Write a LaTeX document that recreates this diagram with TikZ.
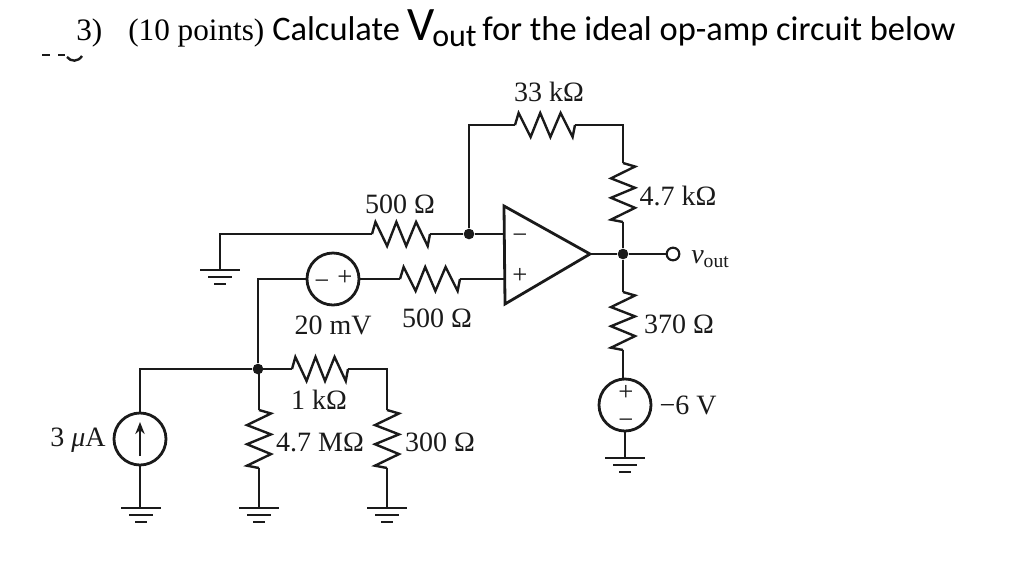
\documentclass[tikz,border=0pt]{standalone}
\usepackage{fontspec}
\setmainfont{Liberation Serif}
\newfontfamily\calib{Carlito}
\usetikzlibrary{calc,arrows.meta}
\newcommand{\zzres}[2]{%
  \draw[wire] (#1) -- ($(#1)!.06!(#2)!12*.75pt!90:(#2)$)
    -- ($(#1)!.26!(#2)!12*.75pt!-90:(#2)$)
    -- ($(#1)!.42!(#2)!12*.75pt!90:(#2)$)
    -- ($(#1)!.59!(#2)!12*.75pt!-90:(#2)$)
    -- ($(#1)!.76!(#2)!12*.75pt!90:(#2)$)
    -- ($(#1)!.96!(#2)!12*.75pt!-90:(#2)$)
    -- (#2);}
\newcommand{\gnd}[2]{%
  \coordinate (#1) at #2;
  \draw[gndline] ($(#1)+(-20,0)$) -- ($(#1)+(20,0)$);
  \draw[gndline] ($(#1)+(-12,7)$) -- ($(#1)+(12,7)$);
  \draw[gndline] ($(#1)+(-6,14)$) -- ($(#1)+(6,14)$);}
\tikzset{
  wire/.style={line width=1.8pt,color=ink,line join=miter},
  gndline/.style={line width=2.1pt,color=ink},
  source/.style={circle,draw=ink,line width=2.1pt,minimum size=39pt,inner sep=0pt},
  jdot/.style={circle,fill=ink,inner sep=0pt,minimum size=8pt},
  term/.style={circle,draw=ink,line width=1.6pt,fill=white,inner sep=0pt,minimum size=9.5pt},
  lab/.style={font=\fontsize{21}{21}\selectfont,text=ink,inner sep=0pt,anchor=base},
  sign/.style={font=\fontsize{20}{20}\selectfont,text=ink,inner sep=0pt,text height=8pt,text depth=0pt},
  head/.style={text=black,inner sep=0pt,anchor=base west},
  speck/.style={line width=1.2pt,color=ink}
}
\definecolor{ink}{HTML}{1A1A1A}
\begin{document}
\begin{tikzpicture}[x=.75pt,y=-.75pt]
\useasboundingbox (0,0) rectangle (1024,569);
% heading
\node[head,font=\fontsize{23.4}{24}\selectfont] (hn) at (76,40) {3)};
\node[head,font=\fontsize{23.4}{24}\selectfont] (hq) at (128,40) {(10 points)};
\node[head,font=\calib\fontsize{25.8}{26}\selectfont] (hc) at (272,40) {Calculate};
\node[head,font=\calib\fontsize{36}{36}\selectfont] (hv) at (407,40) {V};
\node[head,font=\calib\fontsize{24}{24}\selectfont] (ht) at (432,46) {out};
\node[head,font=\calib\fontsize{25.8}{26}\selectfont] (hr) at (482,40) {for the ideal op-amp circuit below};
\coordinate (s1) at (42,55); \coordinate (s2) at (50,55);
\coordinate (s3) at (58,55); \coordinate (s4) at (65,55);
\coordinate (s5) at (67,57); \coordinate (s6) at (82,56);
\draw[speck] (s1) -- (s2);
\draw[speck] (s3) -- (s4);
\draw[speck,line width=1.8pt] (s5) .. controls (71,62) and (78,62) .. (s6);
% sources
\node[source] (vs) at (333,279) {};
\node[source] (vn) at (625,405) {};
\node[source] (is) at (140,439) {};
% op-amp
\coordinate (oa) at (504,206);
\coordinate (ob) at (505,304);
\coordinate (oc) at (590,254);
\draw[wire,line width=2.1pt] (oa) -- (oc) -- (ob) -- cycle;
\node[sign] (om) at (520,238) {−};
\node[sign] (op) at (520,278) {+};
% junctions
\node[jdot] (j1) at (469,234) {};
\node[jdot] (j2) at (623,254) {};
\node[jdot] (j3) at (258,369) {};
\node[term] (out) at (673,254) {};
% grounds
\gnd{g1}{(220,270)}
\gnd{g2}{(141,508)}
\gnd{g3}{(259,508)}
\gnd{g4}{(387,508)}
\gnd{g5}{(625,458)}
% resistors
\coordinate (r1a) at (372,234); \coordinate (r1b) at (430,234); \zzres{r1a}{r1b}
\coordinate (r2a) at (400,279); \coordinate (r2b) at (460,279); \zzres{r2a}{r2b}
\coordinate (r3a) at (515,125); \coordinate (r3b) at (575,125); \zzres{r3a}{r3b}
\coordinate (r4a) at (623,163); \coordinate (r4b) at (623,222); \zzres{r4a}{r4b}
\coordinate (r5a) at (623,292); \coordinate (r5b) at (623,350); \zzres{r5a}{r5b}
\coordinate (r6a) at (292,369); \coordinate (r6b) at (348,369); \zzres{r6a}{r6b}
\coordinate (r7a) at (259,410); \coordinate (r7b) at (259,468); \zzres{r7a}{r7b}
\coordinate (r8a) at (387,410); \coordinate (r8b) at (387,468); \zzres{r8a}{r8b}
% wires
\draw[wire] (g1) -- (g1 |- r1a) -- (r1a);
\draw[wire] (r1b) -- (j1) -- (oa |- j1);
\draw[wire] (j1) -- (j1 |- r3a) -- (r3a);
\draw[wire] (r3b) -- (r4a |- r3b) -- (r4a);
\draw[wire] (r4b) -- (j2);
\draw[wire] (oc) -- (j2) -- (out);
\draw[wire] (j2) -- (r5a);
\draw[wire] (r5b) -- (r5b |- vn.north);
\draw[wire] (vn.south -| g5) -- (g5);
\draw[wire] (vs.east) -- (r2a);
\draw[wire] (r2b) -- (oa |- r2b);
\draw[wire] (vs.west) -- (j3 |- vs.west) -- (j3);
\draw[wire] (is.north) -- (is.north |- j3) -- (j3);
\draw[wire] (is.south) -- (is.south |- g2);
\draw[wire] (j3) -- (r6a);
\draw[wire] (r6b) -- (r8a |- r6b) -- (r8a);
\draw[wire] (j3) -- (r7a |- j3) -- (r7a);
\draw[wire] (r7b) -- (g3);
\draw[wire] (r8b) -- (g4);
% source marks
\node[sign] (vsm) at (322,284) {−};
\node[sign] (vsp) at (345,280) {+};
\node[sign] (vnp) at (626,395) {+};
\node[sign] (vnm) at (626,423) {−};
\coordinate (ia) at (140,456);
\coordinate (ib) at (140,422);
\draw[wire,-{Stealth[length=9pt,width=7pt]}] (ia) -- (ib);
% labels
\node[lab] (l1) at (549,101) {33 kΩ};
\node[lab] (l2) at (400,213) {500 Ω};
\node[lab] (l3) at (678,205) {4.7 kΩ};
\node[lab] (l4) at (437,327) {500 Ω};
\node[lab] (l5) at (333,334) {20 mV};
\node[lab] (l6) at (679,333) {370 Ω};
\node[lab] (l7) at (688,414) {−6 V};
\node[lab] (l8) at (319,409) {1 kΩ};
\node[lab] (l9) at (320,451) {4.7 MΩ};
\node[lab] (l10) at (440,451) {300 Ω};
\node[lab] (l11) at (78,446) {3 \textit{μ}A};
\node[lab,anchor=base west] (l12) at (691,263) {\textit{v}\textsubscript{out}};
\end{tikzpicture}
\end{document}
